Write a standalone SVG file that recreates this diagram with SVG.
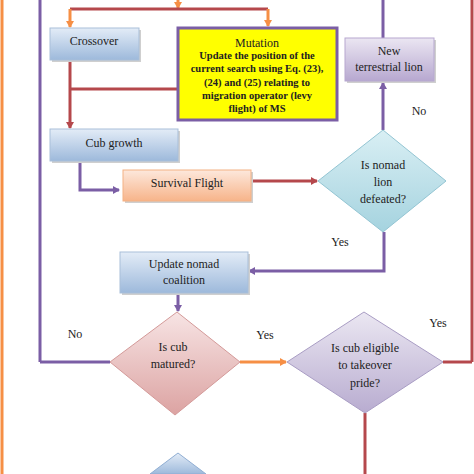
<svg xmlns="http://www.w3.org/2000/svg" width="474" height="474" viewBox="0 0 474 474">
<defs>
<linearGradient id="gBlue" x1="0" y1="0" x2="0" y2="1"><stop offset="0" stop-color="#e3ecf7"/><stop offset="1" stop-color="#9db9db"/></linearGradient>
<linearGradient id="gOrange" x1="0" y1="0" x2="0" y2="1"><stop offset="0" stop-color="#fde8dc"/><stop offset="1" stop-color="#f7b48a"/></linearGradient>
<linearGradient id="gLav" x1="0" y1="0" x2="0" y2="1"><stop offset="0" stop-color="#ebe6f2"/><stop offset="1" stop-color="#b7a8d0"/></linearGradient>
<linearGradient id="gCyan" x1="0" y1="0" x2="0" y2="1"><stop offset="0" stop-color="#d9eff4"/><stop offset="1" stop-color="#a5d3df"/></linearGradient>
<linearGradient id="gPink" x1="0" y1="0" x2="0" y2="1"><stop offset="0" stop-color="#f7e4e4"/><stop offset="1" stop-color="#dca3a2"/></linearGradient>
<linearGradient id="gLav2" x1="0" y1="0" x2="0" y2="1"><stop offset="0" stop-color="#ebe7f2"/><stop offset="1" stop-color="#b8acd0"/></linearGradient>
<marker id="aR" markerWidth="8" markerHeight="8" refX="6" refY="4" orient="auto" markerUnits="userSpaceOnUse"><path d="M0,0 L7,4 L0,8 Z" fill="#b5484c"/></marker>
<marker id="aP" markerWidth="8" markerHeight="8" refX="6" refY="4" orient="auto" markerUnits="userSpaceOnUse"><path d="M0,0 L7,4 L0,8 Z" fill="#7b5ea5"/></marker>
<marker id="aO" markerWidth="8" markerHeight="8" refX="6" refY="4" orient="auto" markerUnits="userSpaceOnUse"><path d="M0,0 L7,4 L0,8 Z" fill="#f68f45"/></marker>
</defs>
<style>
.t{font-family:"Liberation Serif","Times New Roman",serif;font-size:12px;fill:#222;text-anchor:middle}
.tb{font-family:"Liberation Serif","Times New Roman",serif;font-size:10.5px;font-weight:bold;fill:#222;text-anchor:middle}
.r{stroke:#b5484c;stroke-width:3;fill:none}
.p{stroke:#7b5ea5;stroke-width:3;fill:none}
.o{stroke:#f68f45;stroke-width:3;fill:none}
.bx{stroke:#a9bfd9;stroke-width:1}
.sh{fill:#cfcfcf}
</style>
<rect width="474" height="474" fill="#ffffff"/>
<g id="connectors">
<line class="o" x1="2" y1="0" x2="2" y2="474"/>
<line class="p" x1="40" y1="0" x2="40" y2="362"/>
<polyline class="p" points="40,362 110,362"/>
<line class="r" x1="472" y1="0" x2="472" y2="362"/>
<polyline class="r" points="443,362 472,362"/>
<line class="o" x1="178" y1="0" x2="178" y2="8" marker-end="url(#aO)"/>
<line class="r" x1="70" y1="9" x2="268" y2="9"/>
<line class="o" x1="70" y1="9" x2="70" y2="27" marker-end="url(#aO)"/>
<line class="o" x1="268" y1="9" x2="268" y2="26" marker-end="url(#aO)"/>
<line class="r" x1="70" y1="60" x2="70" y2="128" marker-end="url(#aR)"/>
<line class="r" x1="70" y1="89" x2="178" y2="89"/>
<polyline class="p" points="80,162 80,190 119,190" marker-end="url(#aP)"/>
<line class="r" x1="251" y1="181" x2="317" y2="181" marker-end="url(#aR)"/>
<line class="p" x1="383" y1="130" x2="383" y2="83" marker-end="url(#aP)"/>
<line class="p" x1="383" y1="38" x2="383" y2="0"/>
<polyline class="p" points="384,232 384,271 249,271" marker-end="url(#aP)"/>
<line class="p" x1="178" y1="293" x2="178" y2="311" marker-end="url(#aP)"/>
<line class="o" x1="240" y1="362" x2="286" y2="362" marker-end="url(#aO)"/>
<line class="r" x1="365" y1="413" x2="365" y2="474"/>
</g>
<g id="crossover">
<rect class="sh" x="52" y="30" width="89" height="32"/>
<rect class="bx" x="50" y="28" width="89" height="32" fill="url(#gBlue)"/>
<text class="t" x="94" y="45">Crossover</text>
</g>
<g id="mutation">
<rect x="178" y="28" width="159" height="92" fill="#ffff00" stroke="#7b5ea5" stroke-width="3"/>
<text class="t" x="257" y="47">Mutation</text>
<text class="tb" x="257" y="59">Update the position of the</text>
<text class="tb" x="257" y="72">current search using Eq. (23),</text>
<text class="tb" x="257" y="86">(24) and (25) relating to</text>
<text class="tb" x="257" y="99">migration operator (levy</text>
<text class="tb" x="257" y="112">flight) of MS</text>
</g>
<g id="new-terrestrial-lion">
<rect class="sh" x="347" y="40" width="89" height="43"/>
<rect x="345" y="38" width="89" height="43" fill="url(#gLav)" stroke="#b7a8d0" stroke-width="1"/>
<text class="t" x="389" y="55">New</text>
<text class="t" x="389" y="71">terrestrial lion</text>
</g>
<g id="cub-growth">
<rect class="sh" x="52" y="131" width="128" height="32"/>
<rect class="bx" x="50" y="129" width="128" height="32" fill="url(#gBlue)"/>
<text class="t" x="114" y="147">Cub growth</text>
</g>
<g id="survival-flight">
<rect class="sh" x="125" y="172" width="128" height="31"/>
<rect x="123" y="170" width="128" height="31" fill="url(#gOrange)" stroke="#f4b183" stroke-width="1"/>
<text class="t" x="187" y="187">Survival Flight</text>
</g>
<g id="nomad-defeated">
<polygon points="383,130 446,181 383,232 318,181" fill="url(#gCyan)" stroke="#93c5d3" stroke-width="1"/>
<text class="t" x="383" y="169">Is nomad</text>
<text class="t" x="383" y="186">lion</text>
<text class="t" x="383" y="203">defeated?</text>
</g>
<g id="update-nomad">
<rect class="sh" x="122" y="254" width="128" height="41"/>
<rect class="bx" x="120" y="252" width="128" height="41" fill="url(#gBlue)"/>
<text class="t" x="184" y="268">Update nomad</text>
<text class="t" x="184" y="284">coalition</text>
</g>
<g id="cub-matured">
<polygon points="177,312 240,362 175,415 110,362" fill="url(#gPink)" stroke="#d49a99" stroke-width="1"/>
<text class="t" x="173" y="351">Is cub</text>
<text class="t" x="173" y="368">matured?</text>
</g>
<g id="cub-eligible">
<polygon points="364,312 443,362 365,413 287,362" fill="url(#gLav2)" stroke="#a99dc4" stroke-width="1"/>
<text class="t" x="365" y="352">Is cub eligible</text>
<text class="t" x="365" y="369">to takeover</text>
<text class="t" x="365" y="387">pride?</text>
</g>
<g id="bottom-node">
<polygon points="178,453 206,474 150,474" fill="url(#gBlue)" stroke="#8fadd2" stroke-width="1"/>
</g>
<g id="labels">
<text class="t" x="419" y="115">No</text>
<text class="t" x="340" y="246">Yes</text>
<text class="t" x="75" y="338">No</text>
<text class="t" x="265" y="339">Yes</text>
<text class="t" x="438" y="327">Yes</text>
</g>
</svg>
